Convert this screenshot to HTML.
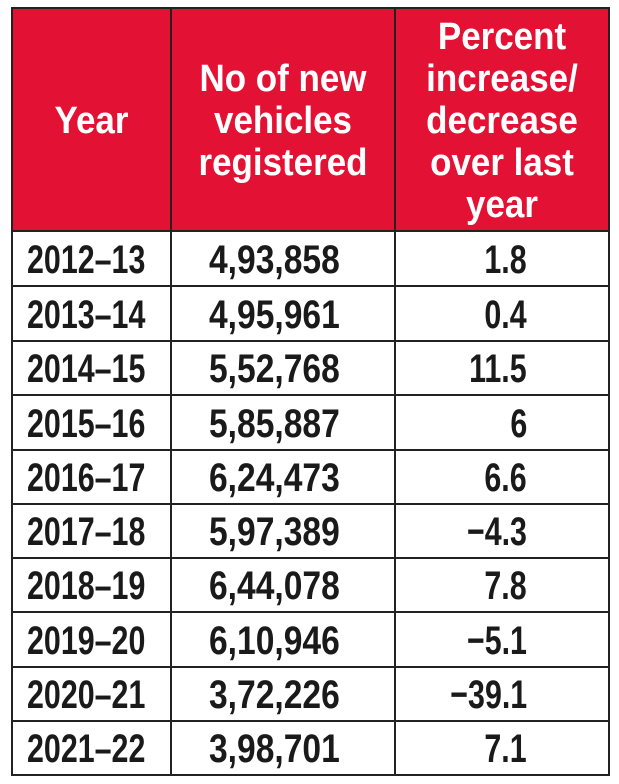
<!DOCTYPE html>
<html><head><style>
body{margin:0;width:619px;height:784px;background:#fff;position:relative;overflow:hidden;font-family:"Liberation Sans",sans-serif;font-weight:bold}
.h{position:absolute;top:7px;left:12px;width:597px;height:224px;background:#E31234}
.l{position:absolute;background:#222}
.t{position:absolute;white-space:nowrap;color:#1a1a1a;font-size:40px;line-height:54px;transform:scaleX(0.76)}
.hd{position:absolute;color:#fff;font-size:38px;line-height:42px;text-align:center;transform:scaleX(0.92)}
</style></head><body>
<div class="h"></div>
<div class="hd" style="left:12px;width:159px;top:100px">Year</div>
<div class="hd" style="left:171px;width:224px;top:58px">No of new<br>vehicles<br>registered</div>
<div class="hd" style="left:395px;width:214px;top:16px">Percent<br>increase/<br>decrease<br>over last<br>year</div>
<div class="l" style="left:11px;top:7px;width:2px;height:769px"></div>
<div class="l" style="left:608px;top:7px;width:2px;height:769px"></div>
<div class="l" style="left:170px;top:7px;width:2px;height:769px"></div>
<div class="l" style="left:394px;top:7px;width:2px;height:769px"></div>
<div class="l" style="left:11px;top:7px;width:599px;height:2px"></div>
<div id="rows"></div>
<script>
var d=[["2012–13","4,93,858","1.8"],["2013–14","4,95,961","0.4"],["2014–15","5,52,768","11.5"],["2015–16","5,85,887","6"],["2016–17","6,24,473","6.6"],["2017–18","5,97,389","−4.3"],["2018–19","6,44,078","7.8"],["2019–20","6,10,946","−5.1"],["2020–21","3,72,226","−39.1"],["2021–22","3,98,701","7.1"]];
var b=[231,286,341,395,450,504,558,612,667,721,775],h="";
for(var i=0;i<11;i++)h+='<div class="l" style="left:11px;top:'+(b[i]-1)+'px;width:599px;height:2px"></div>';
for(var i=0;i<10;i++){var y=b[i]+(b[i+1]-b[i]-54)/2+1;
h+='<div class="t" style="left:27px;top:'+y+'px;transform-origin:left">'+d[i][0]+'</div>';
h+='<div class="t" style="left:209px;top:'+y+'px;transform-origin:left;transform:scaleX(0.84)">'+d[i][1]+'</div>';
h+='<div class="t" style="right:92px;top:'+y+'px;transform-origin:right">'+d[i][2]+'</div>';}
document.getElementById('rows').innerHTML=h;
</script>
</body></html>
